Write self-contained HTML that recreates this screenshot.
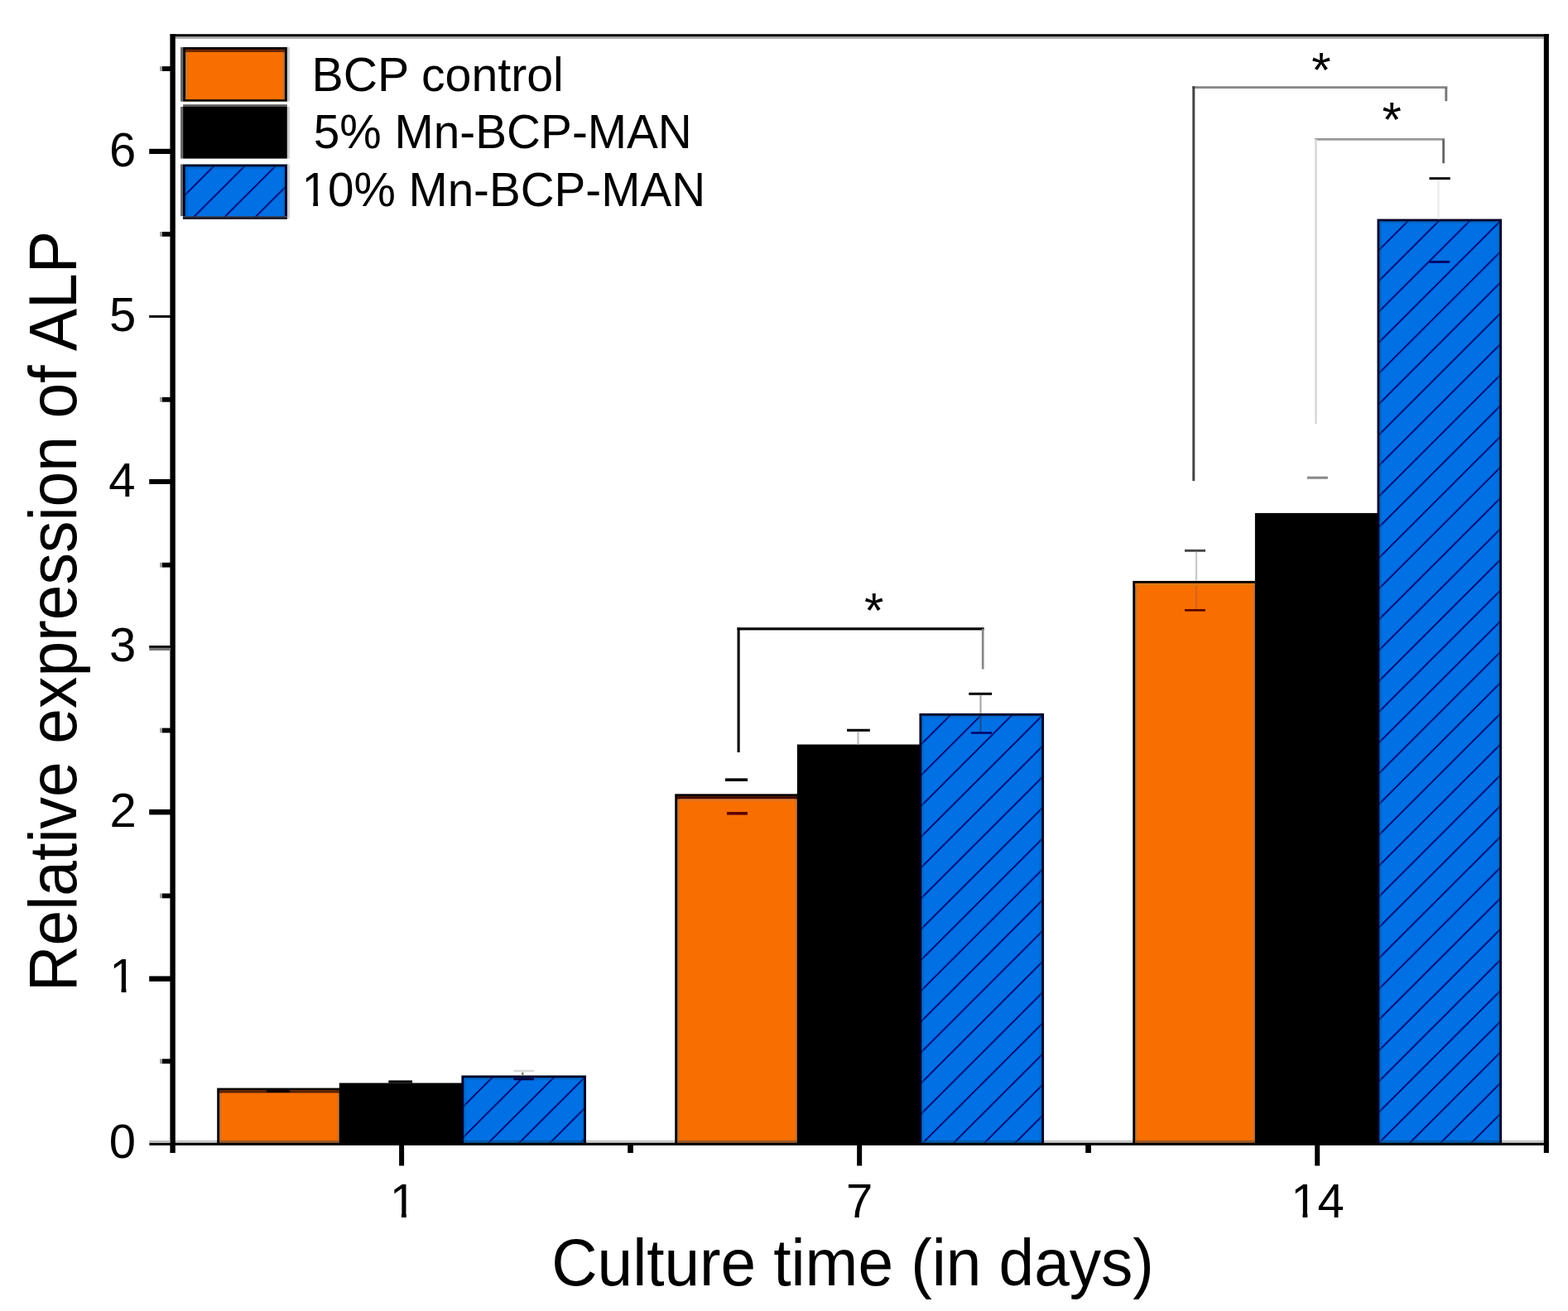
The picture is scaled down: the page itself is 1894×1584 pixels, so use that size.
<!DOCTYPE html>
<html><head><meta charset="utf-8"><title>Relative expression of ALP</title>
<style>html,body{margin:0;padding:0;background:#fff;}svg{display:block;}</style></head>
<body><svg width="1894" height="1584" viewBox="0 0 1894 1584">
<rect width="1894" height="1584" fill="#fff"/>
<defs>
<pattern id="h0" patternUnits="userSpaceOnUse" x="557.4" y="1299.4" width="37.2" height="37.2"><rect x="-1" y="-1" width="39.2" height="39.2" fill="#0070E4"/><path d="M-26.70,-8 L-8,-26.70 M10.50,-8 L-8,10.50 M47.70,-8 L-8,47.70 M84.90,-8 L-8,84.90" stroke="#00006A" stroke-width="1.8" fill="none"/></pattern>
<pattern id="h1" patternUnits="userSpaceOnUse" x="1110.45" y="861.9" width="37.2" height="37.2"><rect x="-1" y="-1" width="39.2" height="39.2" fill="#0070E4"/><path d="M-26.70,-8 L-8,-26.70 M10.50,-8 L-8,10.50 M47.70,-8 L-8,47.70 M84.90,-8 L-8,84.90" stroke="#00006A" stroke-width="1.8" fill="none"/></pattern>
<pattern id="h2" patternUnits="userSpaceOnUse" x="1663.5" y="264.6" width="37.2" height="37.2"><rect x="-1" y="-1" width="39.2" height="39.2" fill="#0070E4"/><path d="M-26.70,-8 L-8,-26.70 M10.50,-8 L-8,10.50 M47.70,-8 L-8,47.70 M84.90,-8 L-8,84.90" stroke="#00006A" stroke-width="1.8" fill="none"/></pattern>
<pattern id="hl" patternUnits="userSpaceOnUse" x="220.9" y="198.5" width="37.2" height="37.2"><rect x="-1" y="-1" width="39.2" height="39.2" fill="#0070E4"/><path d="M-26.70,-8 L-8,-26.70 M10.50,-8 L-8,10.50 M47.70,-8 L-8,47.70 M84.90,-8 L-8,84.90" stroke="#00006A" stroke-width="1.8" fill="none"/></pattern>
</defs>
<rect x="211.40" y="44.20" width="1653.40" height="2.70" fill="#aaa" />
<rect x="211.40" y="1377.60" width="1653.40" height="3.20" fill="#c8c8c8" />
<rect x="262.20" y="1314.60" width="150.60" height="67.60" fill="#000" />
<rect x="265.10" y="1317.50" width="144.80" height="64.70" fill="#c8742e" />
<rect x="265.10" y="1317.50" width="144.80" height="3.20" fill="#5a2000" />
<rect x="267.60" y="1320.70" width="139.80" height="61.50" fill="#F86F00" />
<rect x="265.10" y="1377.80" width="144.80" height="3.00" fill="#9a5a28" />
<rect x="409.80" y="1308.50" width="150.60" height="73.70" fill="#000" />
<rect x="557.40" y="1299.40" width="150.60" height="82.80" fill="#00002a" />
<rect x="560.30" y="1302.30" width="144.80" height="79.90" fill="url(#h0)" />
<rect x="560.30" y="1302.30" width="2.60" height="79.90" fill="#0a5a98" fill-opacity="0.45"/>
<rect x="702.70" y="1302.30" width="2.40" height="79.90" fill="#0a5a98" fill-opacity="0.35"/>
<rect x="562.90" y="1302.30" width="139.80" height="2.40" fill="#0a5a98" fill-opacity="0.35"/>
<rect x="560.30" y="1377.80" width="144.80" height="3.00" fill="#0a4a80" fill-opacity="0.6"/>
<rect x="815.25" y="959.30" width="150.60" height="422.90" fill="#000" />
<rect x="818.15" y="962.20" width="144.80" height="420.00" fill="#c8742e" />
<rect x="818.15" y="962.20" width="144.80" height="3.20" fill="#420400" />
<rect x="820.65" y="965.40" width="139.80" height="2.20" fill="#d87830" />
<rect x="820.65" y="967.60" width="139.80" height="414.60" fill="#F86F00" />
<rect x="818.15" y="1377.80" width="144.80" height="3.00" fill="#9a5a28" />
<rect x="962.85" y="899.50" width="150.60" height="482.70" fill="#000" />
<rect x="1110.45" y="861.90" width="150.60" height="520.30" fill="#00002a" />
<rect x="1113.35" y="864.80" width="144.80" height="517.40" fill="url(#h1)" />
<rect x="1113.35" y="864.80" width="2.60" height="517.40" fill="#0a5a98" fill-opacity="0.45"/>
<rect x="1255.75" y="864.80" width="2.40" height="517.40" fill="#0a5a98" fill-opacity="0.35"/>
<rect x="1115.95" y="864.80" width="139.80" height="2.40" fill="#0a5a98" fill-opacity="0.35"/>
<rect x="1113.35" y="1377.80" width="144.80" height="3.00" fill="#0a4a80" fill-opacity="0.6"/>
<rect x="1368.30" y="701.90" width="150.60" height="680.30" fill="#000" />
<rect x="1371.20" y="704.80" width="144.80" height="677.40" fill="#c8742e" />
<rect x="1371.20" y="704.80" width="144.80" height="3.20" fill="#e07a10" />
<rect x="1373.70" y="708.00" width="139.80" height="674.20" fill="#F86F00" />
<rect x="1371.20" y="1377.80" width="144.80" height="3.00" fill="#9a5a28" />
<rect x="1515.90" y="619.90" width="150.60" height="762.30" fill="#000" />
<rect x="1663.50" y="264.60" width="150.60" height="1117.60" fill="#00002a" />
<rect x="1666.40" y="267.50" width="144.80" height="1114.70" fill="url(#h2)" />
<rect x="1666.40" y="267.50" width="2.60" height="1114.70" fill="#0a5a98" fill-opacity="0.45"/>
<rect x="1808.80" y="267.50" width="2.40" height="1114.70" fill="#0a5a98" fill-opacity="0.35"/>
<rect x="1669.00" y="267.50" width="139.80" height="2.40" fill="#0a5a98" fill-opacity="0.35"/>
<rect x="1666.40" y="1377.80" width="144.80" height="3.00" fill="#0a4a80" fill-opacity="0.6"/>
<rect x="469.30" y="1305.40" width="28.70" height="3.20" fill="#000"/>
<rect x="322.00" y="1317.00" width="28.00" height="3.00" fill="#150000"/>
<rect x="620.30" y="1292.70" width="24.70" height="2.60" fill="#dadada"/>
<rect x="630.00" y="1295.60" width="2.60" height="4.00" fill="#8a8a8a"/>
<rect x="620.30" y="1302.40" width="24.70" height="2.80" fill="#000040"/>
<rect x="876.00" y="940.40" width="27.00" height="3.60" fill="#000"/>
<rect x="878.00" y="981.00" width="25.00" height="3.60" fill="#5a0000"/>
<rect x="1023.00" y="880.75" width="27.80" height="3.10" fill="#000"/>
<rect x="1035.40" y="883.80" width="2.20" height="15.70" fill="#bbb"/>
<rect x="1170.30" y="836.80" width="27.80" height="3.00" fill="#000"/>
<rect x="1183.40" y="839.80" width="2.20" height="22.20" fill="#aaa"/>
<rect x="1183.50" y="864.80" width="2.00" height="20.20" fill="#1b4d8a"/>
<rect x="1172.80" y="884.25" width="25.30" height="2.50" fill="#00006A"/>
<rect x="1431.00" y="663.85" width="25.00" height="2.90" fill="#444"/>
<rect x="1443.80" y="666.80" width="2.40" height="35.20" fill="#ccc"/>
<rect x="1443.90" y="708.00" width="2.20" height="28.00" fill="#d8641a"/>
<rect x="1431.00" y="735.95" width="25.00" height="2.70" fill="#5a0000"/>
<rect x="1578.90" y="575.65" width="25.00" height="3.10" fill="#8a8a8a"/>
<rect x="1726.50" y="214.15" width="25.20" height="2.90" fill="#000"/>
<rect x="1736.40" y="217.00" width="2.20" height="47.60" fill="#ebebeb"/>
<rect x="1726.50" y="314.95" width="24.70" height="2.90" fill="#00006A"/>
<rect x="890.60" y="758.20" width="298.00" height="3.20" fill="#000"/>
<rect x="890.55" y="758.20" width="3.10" height="150.80" fill="#000"/>
<rect x="1185.85" y="759.80" width="2.70" height="48.70" fill="#888"/>
<rect x="1440.30" y="104.20" width="308.00" height="2.80" fill="#888"/>
<rect x="1440.30" y="104.20" width="3.00" height="476.80" fill="#444"/>
<rect x="1745.35" y="105.60" width="2.90" height="16.60" fill="#777"/>
<rect x="1588.20" y="166.90" width="156.80" height="2.80" fill="#999"/>
<rect x="1588.10" y="168.30" width="2.80" height="343.70" fill="#dcdcdc"/>
<rect x="1742.20" y="168.30" width="2.80" height="29.00" fill="#666"/>
<rect x="205.40" y="41.20" width="6.40" height="1351.80" fill="#000" />
<rect x="1864.80" y="41.20" width="6.10" height="1351.80" fill="#000" />
<rect x="205.80" y="41.20" width="1665.10" height="3.00" fill="#000" />
<rect x="180.40" y="1380.80" width="1690.50" height="3.10" fill="#000" />
<rect x="180.20" y="1378.00" width="25.20" height="2.80" fill="#bbbbbb" />
<rect x="180.20" y="1179.40" width="26.00" height="6.40" fill="#000" />
<rect x="180.20" y="977.90" width="26.00" height="6.50" fill="#000" />
<rect x="180.20" y="780.00" width="26.00" height="2.90" fill="#000" />
<rect x="180.20" y="578.90" width="26.00" height="6.00" fill="#000" />
<rect x="180.20" y="380.90" width="26.00" height="3.00" fill="#000" />
<rect x="180.20" y="179.80" width="26.00" height="6.20" fill="#000" />
<rect x="180.20" y="782.90" width="26.00" height="3.10" fill="#777" />
<rect x="193.10" y="1279.37" width="3.00" height="5.80" fill="#999" />
<rect x="196.00" y="1279.37" width="10.00" height="5.80" fill="#000" />
<rect x="193.10" y="1079.49" width="3.00" height="5.80" fill="#999" />
<rect x="196.00" y="1079.49" width="10.00" height="5.80" fill="#000" />
<rect x="193.10" y="879.63" width="3.00" height="5.80" fill="#999" />
<rect x="196.00" y="879.63" width="10.00" height="5.80" fill="#000" />
<rect x="193.10" y="679.75" width="3.00" height="5.80" fill="#999" />
<rect x="196.00" y="679.75" width="10.00" height="5.80" fill="#000" />
<rect x="193.10" y="479.89" width="3.00" height="5.80" fill="#999" />
<rect x="196.00" y="479.89" width="10.00" height="5.80" fill="#000" />
<rect x="193.10" y="280.01" width="3.00" height="5.80" fill="#999" />
<rect x="196.00" y="280.01" width="10.00" height="5.80" fill="#000" />
<rect x="193.10" y="80.15" width="3.00" height="5.80" fill="#999" />
<rect x="196.00" y="80.15" width="10.00" height="5.80" fill="#000" />
<rect x="482.10" y="1382.00" width="6.00" height="26.50" fill="#000" />
<rect x="1035.15" y="1382.00" width="6.00" height="26.50" fill="#000" />
<rect x="1588.20" y="1382.00" width="6.00" height="26.50" fill="#000" />
<rect x="758.20" y="1382.00" width="6.70" height="11.00" fill="#000" />
<rect x="1311.20" y="1382.00" width="6.70" height="11.00" fill="#000" />
<rect x="218.00" y="57.00" width="3.00" height="65.70" fill="#6a6a6a" />
<rect x="346.80" y="57.00" width="3.00" height="65.70" fill="#cccccc" />
<rect x="221.10" y="57.00" width="125.70" height="65.70" fill="#000" />
<rect x="224.00" y="59.90" width="119.90" height="60.20" fill="#c8742e" />
<rect x="224.00" y="59.90" width="119.90" height="3.20" fill="#6a2800" />
<rect x="226.50" y="63.10" width="114.90" height="57.00" fill="#F86F00" />
<rect x="218.00" y="129.00" width="3.00" height="62.60" fill="#6a6a6a" />
<rect x="221.10" y="126.20" width="125.70" height="2.80" fill="#5a5a5a" />
<rect x="346.80" y="129.00" width="3.00" height="62.60" fill="#cccccc" />
<rect x="221.10" y="129.00" width="125.70" height="62.60" fill="#000" />
<rect x="218.00" y="198.50" width="3.00" height="62.60" fill="#6a6a6a" />
<rect x="346.80" y="198.50" width="3.00" height="65.40" fill="#cccccc" />
<rect x="220.90" y="198.50" width="126.00" height="63.00" fill="#00002a" />
<rect x="223.80" y="201.40" width="120.20" height="60.10" fill="url(#hl)" />
<rect x="223.80" y="201.40" width="2.60" height="60.10" fill="#0a5a98" fill-opacity="0.45"/>
<rect x="341.60" y="201.40" width="2.40" height="60.10" fill="#0a5a98" fill-opacity="0.35"/>
<rect x="226.40" y="201.40" width="115.20" height="2.40" fill="#0a5a98" fill-opacity="0.35"/>
<rect x="220.90" y="261.50" width="126.00" height="3.50" fill="#222230" />
<g font-family="'Liberation Sans', Arial, sans-serif" fill="#000">
<text x="376.48" y="109.90" font-size="57.97" textLength="304.28" lengthAdjust="spacingAndGlyphs" >BCP control</text>
<text x="378.83" y="179.10" font-size="57.39" textLength="457.00" lengthAdjust="spacingAndGlyphs" >5% Mn-BCP-MAN</text>
<text x="364.45" y="248.50" font-size="57.68" textLength="487.59" lengthAdjust="spacingAndGlyphs" >10% Mn-BCP-MAN</text>
<text x="666.27" y="1552.90" font-size="80.29" textLength="727.55" lengthAdjust="spacingAndGlyphs" >Culture time (in days)</text>
<text x="131.79" y="1399.20" font-size="58">0</text>
<text x="132.37" y="1198.50" font-size="58">1</text>
<text x="132.51" y="998.60" font-size="58">2</text>
<text x="132.08" y="799.00" font-size="58">3</text>
<text x="131.21" y="600.00" font-size="58">4</text>
<text x="131.93" y="400.20" font-size="58">5</text>
<text x="132.08" y="201.00" font-size="58">6</text>
<text x="470.73" y="1471.40" font-size="58">1</text>
<text x="1021.93" y="1471.40" font-size="58">7</text>
<text x="1559.33" y="1471.40" font-size="58">14</text>
<text transform="translate(91.7,1198.04) rotate(-90)" x="0" y="0" font-size="81.01" textLength="919.08" lengthAdjust="spacingAndGlyphs">Relative expression of ALP</text>
<text x="1044.10" y="757.65" font-size="60.00">*</text>
<text x="1584.30" y="104.55" font-size="60.00">*</text>
<text x="1669.40" y="165.05" font-size="60.00">*</text>
</g>
<rect x="367.85" y="242.76" width="10.46" height="7.24" fill="#fff"/>
<rect x="384.00" y="242.76" width="10.19" height="7.24" fill="#fff"/>
<rect x="135.84" y="1192.73" width="10.72" height="7.27" fill="#fff"/>
<rect x="152.39" y="1192.73" width="10.44" height="7.27" fill="#fff"/>
<rect x="474.21" y="1465.63" width="10.72" height="7.27" fill="#fff"/>
<rect x="490.75" y="1465.63" width="10.44" height="7.27" fill="#fff"/>
<rect x="1562.81" y="1465.63" width="10.72" height="7.27" fill="#fff"/>
<rect x="1579.35" y="1465.63" width="10.44" height="7.27" fill="#fff"/>
</svg></body></html>
